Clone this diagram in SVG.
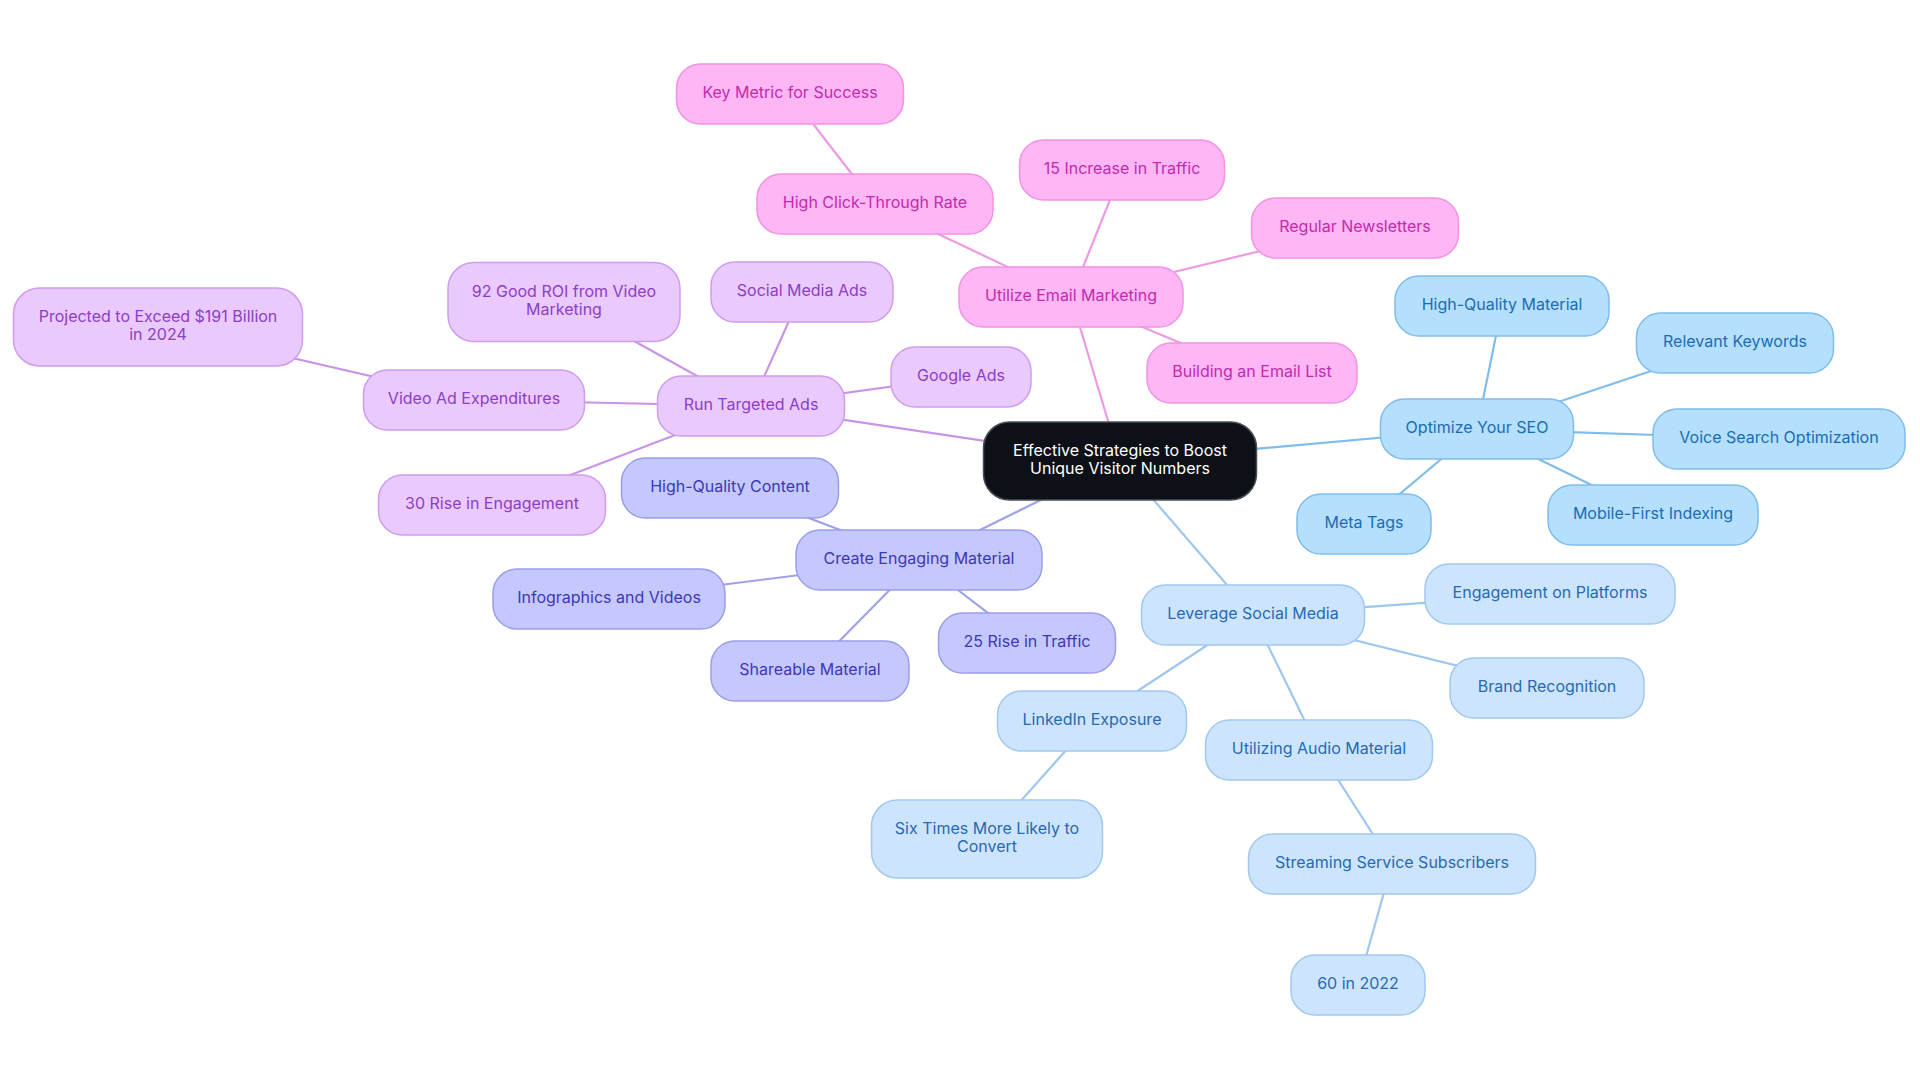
<svg xmlns="http://www.w3.org/2000/svg" width="1920" height="1083" viewBox="0 0 1920 1083">
<style>
  text { font-family: Inter, "Noto Sans", "Liberation Sans", sans-serif; font-size: 16px; text-anchor: middle; transform: translateY(-1.5px); }
  .pk rect { fill: #feb6f4; stroke: #f293e4; stroke-width: 1.5; }
  .pk text { fill: #c02cae; }
  .pu rect { fill: #eac9fd; stroke: #cf9cf0; stroke-width: 1.5; }
  .pu text { fill: #8c3ec6; }
  .in rect { fill: #c5c8fd; stroke: #9b9eea; stroke-width: 1.5; }
  .in text { fill: #3d37b5; }
  .se rect { fill: #b4dffd; stroke: #80bdeb; stroke-width: 1.5; }
  .se text { fill: #1b6db3; }
  .so rect { fill: #cde5fc; stroke: #a1c8ef; stroke-width: 1.5; }
  .so text { fill: #2769b3; }
  .ce rect { fill: #0d1117; stroke: #4b5058; stroke-width: 1.5; }
  .ce text { fill: #ffffff; }
  #connectors line { stroke-width: 2.2; fill: none; }
  .lpk { stroke: #ee9ae2; }
  .lpu { stroke: #c993e6; }
  .lin { stroke: #9fa2e8; }
  .lse { stroke: #80bdeb; }
  .lso { stroke: #9fc6ee; }
</style>
<rect width="1920" height="1083" fill="#ffffff"/>
<g id="connectors">
  <line class="lpk" x1="1120" y1="461" x2="1071" y2="297"/>
  <line class="lpk" x1="1071" y1="297" x2="875" y2="204"/>
  <line class="lpk" x1="875" y1="204" x2="790" y2="94"/>
  <line class="lpk" x1="1071" y1="297" x2="1122" y2="170"/>
  <line class="lpk" x1="1071" y1="297" x2="1355" y2="228"/>
  <line class="lpk" x1="1071" y1="297" x2="1252" y2="373"/>
  <line class="lpu" x1="1120" y1="461" x2="751" y2="406"/>
  <line class="lpu" x1="751" y1="406" x2="802" y2="292"/>
  <line class="lpu" x1="751" y1="406" x2="564" y2="302"/>
  <line class="lpu" x1="751" y1="406" x2="474" y2="400"/>
  <line class="lpu" x1="474" y1="400" x2="158" y2="327"/>
  <line class="lpu" x1="751" y1="406" x2="961" y2="377"/>
  <line class="lpu" x1="751" y1="406" x2="492" y2="505"/>
  <line class="lin" x1="1120" y1="461" x2="919" y2="560"/>
  <line class="lin" x1="919" y1="560" x2="730" y2="488"/>
  <line class="lin" x1="919" y1="560" x2="609" y2="599"/>
  <line class="lin" x1="919" y1="560" x2="810" y2="671"/>
  <line class="lin" x1="919" y1="560" x2="1027" y2="643"/>
  <line class="lse" x1="1120" y1="461" x2="1477" y2="429"/>
  <line class="lse" x1="1477" y1="429" x2="1502" y2="306"/>
  <line class="lse" x1="1477" y1="429" x2="1735" y2="343"/>
  <line class="lse" x1="1477" y1="429" x2="1779" y2="439"/>
  <line class="lse" x1="1477" y1="429" x2="1653" y2="515"/>
  <line class="lse" x1="1477" y1="429" x2="1364" y2="524"/>
  <line class="lso" x1="1120" y1="461" x2="1253" y2="615"/>
  <line class="lso" x1="1253" y1="615" x2="1550" y2="594"/>
  <line class="lso" x1="1253" y1="615" x2="1547" y2="688"/>
  <line class="lso" x1="1253" y1="615" x2="1092" y2="721"/>
  <line class="lso" x1="1092" y1="721" x2="987" y2="839"/>
  <line class="lso" x1="1253" y1="615" x2="1319" y2="750"/>
  <line class="lso" x1="1319" y1="750" x2="1392" y2="864"/>
  <line class="lso" x1="1392" y1="864" x2="1358" y2="985"/>
</g>

<g id="central" class="ce"><rect x="983.5" y="422" width="273" height="78" rx="26"/><text x="1120" y="457">Effective Strategies to Boost</text><text x="1120" y="475">Unique Visitor Numbers</text></g>

<g id="email" class="pk"><rect x="959" y="267" width="224" height="60" rx="24"/><text x="1071" y="302.5">Utilize Email Marketing</text></g>
<g id="ctr" class="pk"><rect x="757" y="174" width="236" height="60" rx="24"/><text x="875" y="209.5">High Click-Through Rate</text></g>
<g id="keymetric" class="pk"><rect x="676.5" y="64" width="227" height="60" rx="24"/><text x="790" y="99.5">Key Metric for Success</text></g>
<g id="traffic15" class="pk"><rect x="1019.5" y="140" width="205" height="60" rx="24"/><text x="1122" y="175.5">15 Increase in Traffic</text></g>
<g id="newsletters" class="pk"><rect x="1251.5" y="198" width="207" height="60" rx="24"/><text x="1355" y="233.5">Regular Newsletters</text></g>
<g id="emaillist" class="pk"><rect x="1147" y="343" width="210" height="60" rx="24"/><text x="1252" y="378.5">Building an Email List</text></g>

<g id="ads" class="pu"><rect x="657.5" y="376" width="187" height="60" rx="24"/><text x="751" y="411.5">Run Targeted Ads</text></g>
<g id="socialads" class="pu"><rect x="711" y="262" width="182" height="60" rx="24"/><text x="802" y="297.5">Social Media Ads</text></g>
<g id="roi" class="pu"><rect x="448" y="262.5" width="232" height="79" rx="26"/><text x="564" y="298">92 Good ROI from Video</text><text x="564" y="316">Marketing</text></g>
<g id="projected" class="pu"><rect x="13.5" y="288" width="289" height="78" rx="26"/><text x="158" y="323">Projected to Exceed $191 Billion</text><text x="158" y="341">in 2024</text></g>
<g id="videoad" class="pu"><rect x="363.5" y="370" width="221" height="60" rx="24"/><text x="474" y="405.5">Video Ad Expenditures</text></g>
<g id="googleads" class="pu"><rect x="891" y="347" width="140" height="60" rx="24"/><text x="961" y="382.5">Google Ads</text></g>
<g id="rise30" class="pu"><rect x="378.5" y="475" width="227" height="60" rx="24"/><text x="492" y="510.5">30 Rise in Engagement</text></g>

<g id="content" class="in"><rect x="796" y="530" width="246" height="60" rx="24"/><text x="919" y="565.5">Create Engaging Material</text></g>
<g id="hqcontent" class="in"><rect x="621.5" y="458" width="217" height="60" rx="24"/><text x="730" y="493.5">High-Quality Content</text></g>
<g id="infographics" class="in"><rect x="493" y="569" width="232" height="60" rx="24"/><text x="609" y="604.5">Infographics and Videos</text></g>
<g id="shareable" class="in"><rect x="711" y="641" width="198" height="60" rx="24"/><text x="810" y="676.5">Shareable Material</text></g>
<g id="rise25" class="in"><rect x="938.5" y="613" width="177" height="60" rx="24"/><text x="1027" y="648.5">25 Rise in Traffic</text></g>

<g id="seo" class="se"><rect x="1380.5" y="399" width="193" height="60" rx="24"/><text x="1477" y="434.5">Optimize Your SEO</text></g>
<g id="hqmaterial" class="se"><rect x="1395" y="276" width="214" height="60" rx="24"/><text x="1502" y="311.5">High-Quality Material</text></g>
<g id="keywords" class="se"><rect x="1636.5" y="313" width="197" height="60" rx="24"/><text x="1735" y="348.5">Relevant Keywords</text></g>
<g id="voice" class="se"><rect x="1653" y="409" width="252" height="60" rx="24"/><text x="1779" y="444.5">Voice Search Optimization</text></g>
<g id="mobile" class="se"><rect x="1548" y="485" width="210" height="60" rx="24"/><text x="1653" y="520.5">Mobile-First Indexing</text></g>
<g id="metatags" class="se"><rect x="1297" y="494" width="134" height="60" rx="24"/><text x="1364" y="529.5">Meta Tags</text></g>

<g id="social" class="so"><rect x="1141.5" y="585" width="223" height="60" rx="24"/><text x="1253" y="620.5">Leverage Social Media</text></g>
<g id="engagement" class="so"><rect x="1425" y="564" width="250" height="60" rx="24"/><text x="1550" y="599.5">Engagement on Platforms</text></g>
<g id="brand" class="so"><rect x="1450" y="658" width="194" height="60" rx="24"/><text x="1547" y="693.5">Brand Recognition</text></g>
<g id="linkedin" class="so"><rect x="997.5" y="691" width="189" height="60" rx="24"/><text x="1092" y="726.5">LinkedIn Exposure</text></g>
<g id="sixtimes" class="so"><rect x="871.5" y="800" width="231" height="78" rx="26"/><text x="987" y="835">Six Times More Likely to</text><text x="987" y="853">Convert</text></g>
<g id="audio" class="so"><rect x="1205.5" y="720" width="227" height="60" rx="24"/><text x="1319" y="755.5">Utilizing Audio Material</text></g>
<g id="streaming" class="so"><rect x="1248.5" y="834" width="287" height="60" rx="24"/><text x="1392" y="869.5">Streaming Service Subscribers</text></g>
<g id="y2022" class="so"><rect x="1291" y="955" width="134" height="60" rx="24"/><text x="1358" y="990.5">60 in 2022</text></g>
</svg>
